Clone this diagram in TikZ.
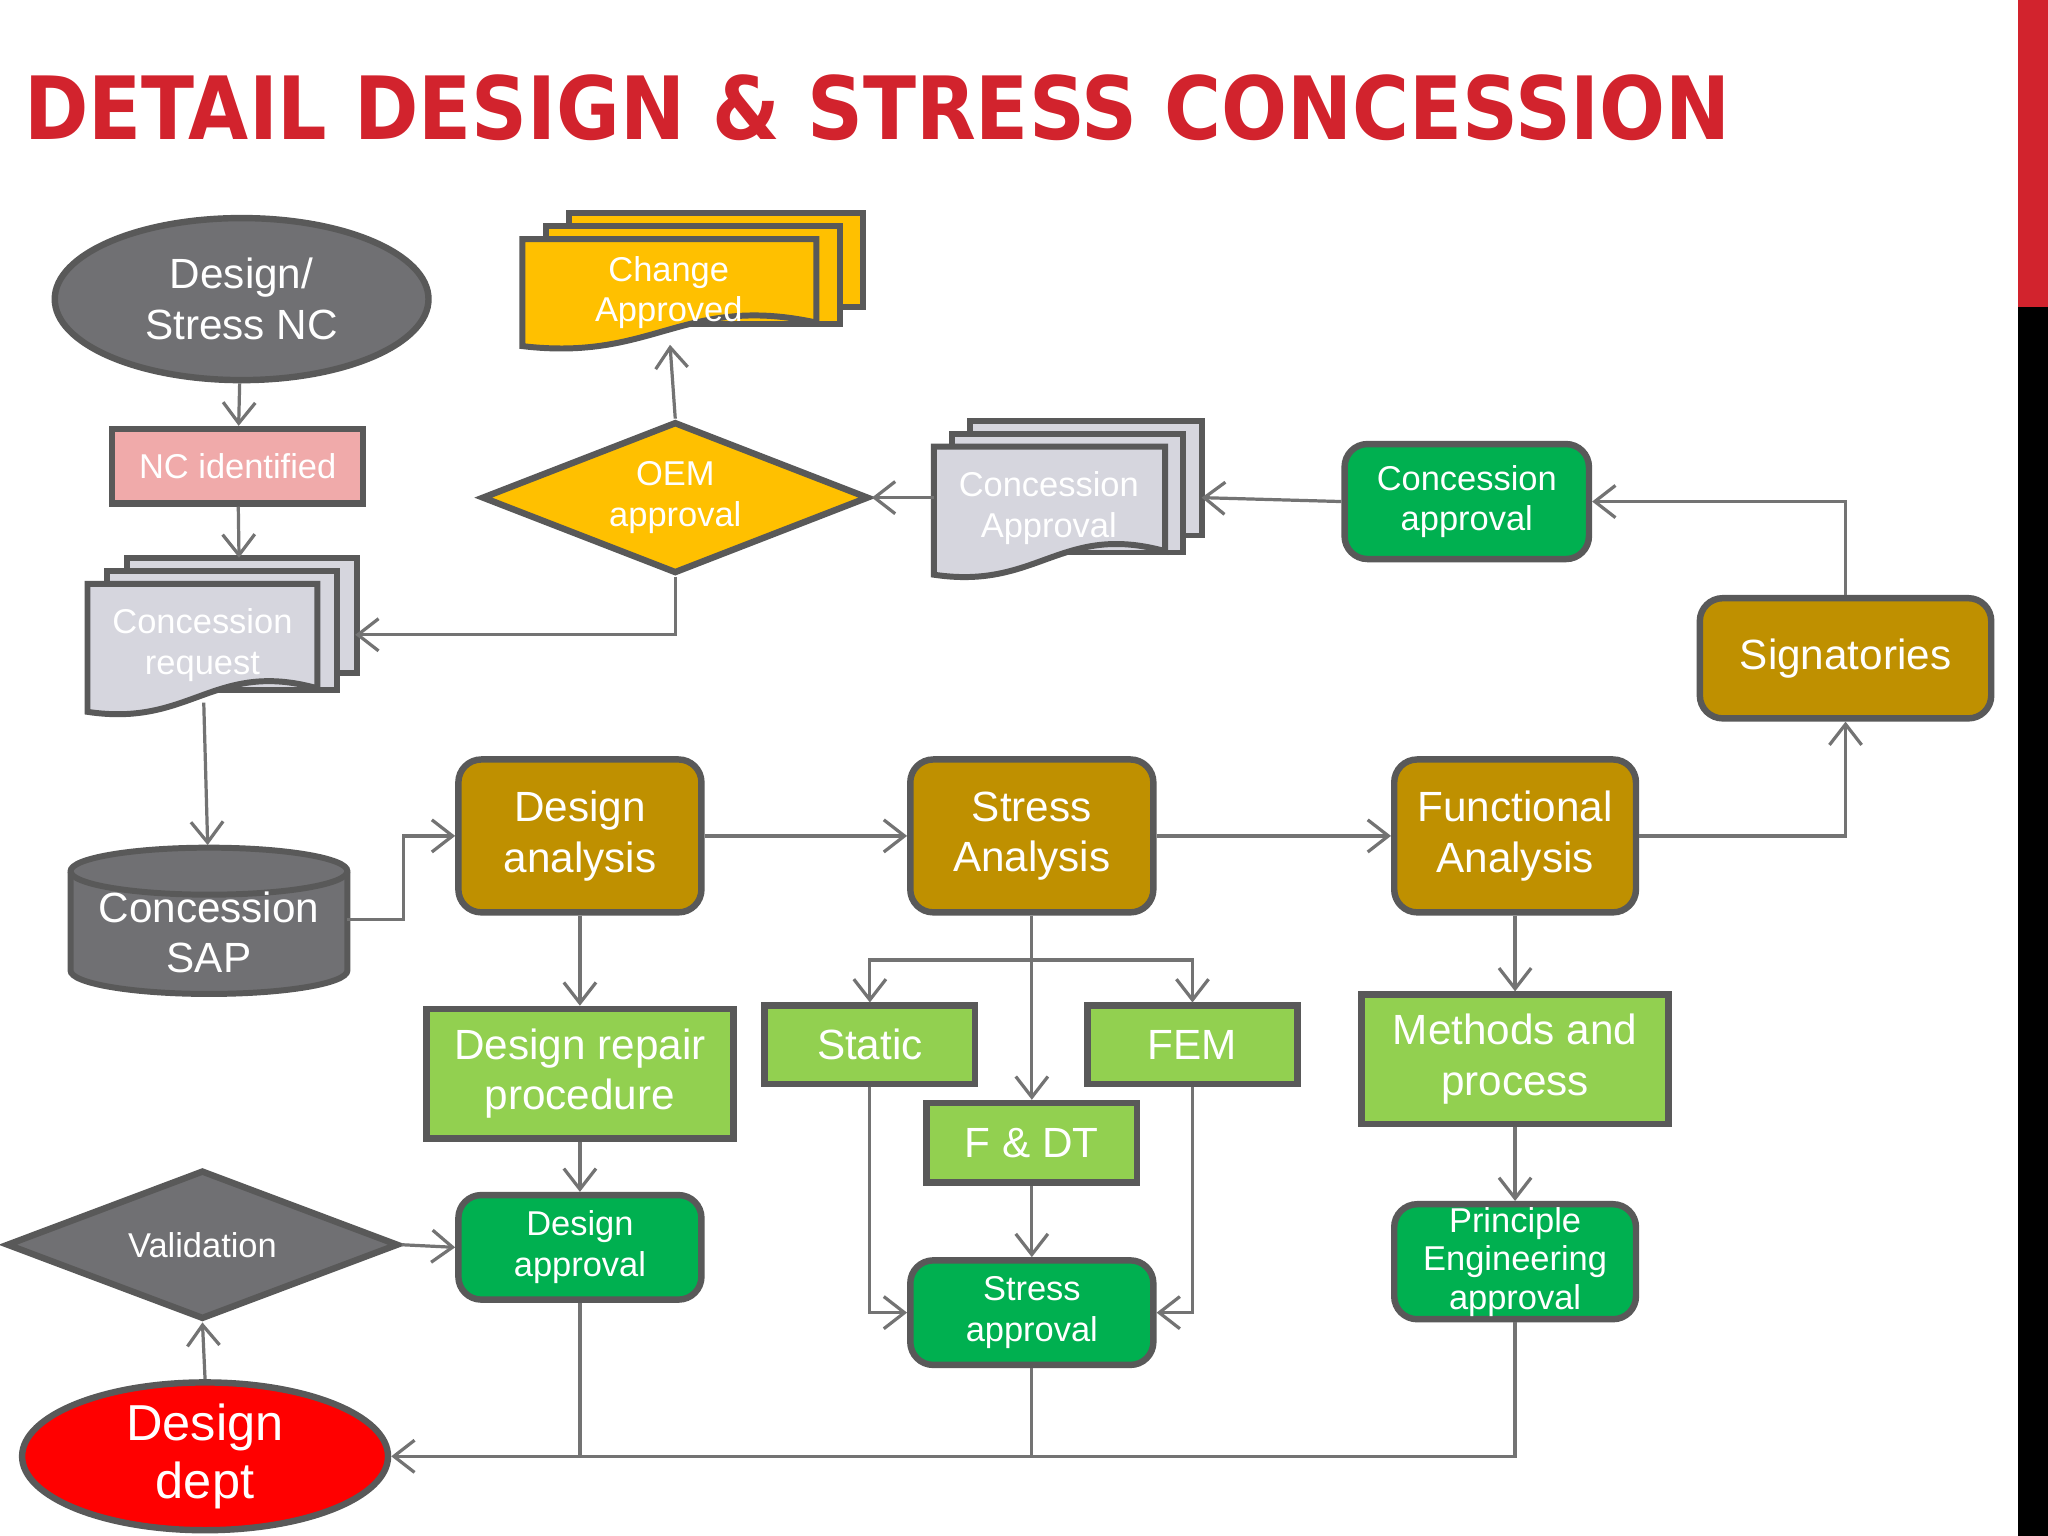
\documentclass[tikz,border=0pt]{standalone}
\usepackage{fontspec}
\setmainfont{Liberation Sans}
\newfontfamily\titlefont{DejaVu Sans}
\usetikzlibrary{arrows.meta,shapes.geometric,calc}
\definecolor{dgray}{RGB}{112,112,115}
\definecolor{olive}{RGB}{191,144,0}
\definecolor{grn}{RGB}{0,176,80}
\definecolor{lgrn}{RGB}{146,208,80}
\definecolor{yel}{RGB}{255,192,0}
\definecolor{docg}{RGB}{214,214,222}
\definecolor{pink}{RGB}{240,170,170}
\definecolor{bord}{RGB}{89,89,89}
\definecolor{ln}{RGB}{115,115,115}
\definecolor{ttl}{RGB}{210,35,45}
\newcommand\mydoc[6]{% x0 y0 x1 y1 fill dx
  \filldraw[docst,fill=#5] ({#1+2*#6},{#2-20}) rectangle ({#3+2*#6},{#4-30});
  \filldraw[docst,fill=#5] ({#1+#6},{#2-10}) rectangle ({#3+#6},{#4-17});
  \filldraw[docst,fill=#5] (#1,#2) -- (#3,#2) -- (#3,{#4-18}) .. controls ({#3-0.45*(#3-#1)},{#4-40}) and ({#1+0.45*(#3-#1)},{#4+12}) .. (#1,#4) -- cycle;
}
\tikzset{x=0.01cm,y=-0.01cm,
  docst/.style={draw=bord,line width=1.3pt},
  box/.style={draw=bord,line width=1.4pt,text=white,align=center,inner sep=0pt},
  rbox/.style={box,rounded corners=5pt},
  arr/.style={draw=ln,line width=0.7pt,-{Straight Barb[length=4.5pt,width=7pt]}},
  ln/.style={draw=ln,line width=0.7pt},
  f10/.style={font=\fontsize{9.2}{11}\selectfont},
  f8/.style={font=\fontsize{7.5}{8.9}\selectfont},
}
\begin{document}
\begin{tikzpicture}
\useasboundingbox (0,0) rectangle (1568,1176);
\fill[white] (0,0) rectangle (1568,1176);
\fill[ttl] (1545,0) rectangle (1568,235);
\fill[black] (1545,235) rectangle (1568,1176);
\node[anchor=base west,inner sep=0pt,text=ttl,font=\titlefont\bfseries\fontsize{19}{20}\selectfont] (title) at (18,107) {\scalebox{0.89}[1]{DETAIL DESIGN \& STRESS CONCESSION}};

% top-left
\node[ellipse,box,fill=dgray,minimum width=2.86cm,minimum height=1.24cm,f10] (nc) at (185,229) {Design/\\Stress NC};
\node[box,fill=pink,minimum width=1.92cm,minimum height=0.57cm,f8] (nci) at (182,357) {NC identified};
\mydoc{67}{447}{243}{545}{docg}{15}
\node[f8,text=white,align=center] (cr) at (155,494) {Concession\\request};
\coordinate (crtop) at (183,427);
\coordinate (crright) at (272,486);
\coordinate (crbot) at (156,538);

% cylinder
\filldraw[docst,fill=dgray] (54,667) -- (54,743) arc[start angle=180,end angle=0,x radius=106,y radius=18] -- (266,667) arc[start angle=0,end angle=-180,x radius=106,y radius=18] -- cycle;
\draw[docst] (54,667) arc[start angle=180,end angle=0,x radius=106,y radius=18];
\node[f10,text=white,align=center,minimum width=2.12cm,minimum height=0.9cm] (sap) at (160,714) {Concession\\SAP};
\coordinate (saptop) at (159,647);
\coordinate (sapr) at (266,704);

% change approved
\mydoc{400}{183}{625}{265}{yel}{18}
\node[f8,text=white,align=center] (ca) at (512,224) {Change\\Approved};
\coordinate (cabot) at (513,264);
\node[diamond,box,fill=yel,shape aspect=2.55,minimum width=2.96cm,minimum height=1.16cm,f8] (oem) at (517,381) {OEM\\approval};

% concession approval doc
\mydoc{715}{342}{892}{440}{docg}{14}
\node[f8,text=white,align=center] (cad) at (803,389) {Concession\\Approval};
\coordinate (cadl) at (715,381);
\coordinate (cadr) at (920,381);

\node[rbox,fill=grn,minimum width=1.87cm,minimum height=0.88cm,f8] (capp) at (1123,384) {Concession\\approval};
\node[rbox,fill=olive,minimum width=2.23cm,minimum height=0.92cm,f10] (sig) at (1413,504) {Signatories};

% analysis row
\node[rbox,fill=olive,minimum width=1.86cm,minimum height=1.17cm,f10] (da) at (444,640) {Design\\analysis};
\node[rbox,fill=olive,minimum width=1.86cm,minimum height=1.17cm,f10] (sa) at (790,640) {Stress\\Analysis};
\node[rbox,fill=olive,minimum width=1.85cm,minimum height=1.17cm,f10] (fa) at (1160,640) {Functional\\Analysis};

\node[box,fill=lgrn,minimum width=2.35cm,minimum height=0.99cm,f10] (drp) at (444,822) {Design repair\\procedure};
\node[box,fill=lgrn,minimum width=1.61cm,minimum height=0.6cm,f10] (st) at (666,800) {Static};
\node[box,fill=lgrn,minimum width=1.61cm,minimum height=0.6cm,f10] (fem) at (913,800) {FEM};
\node[box,fill=lgrn,minimum width=1.61cm,minimum height=0.61cm,f10] (fdt) at (790,875) {F \& DT};
\node[box,fill=lgrn,minimum width=2.35cm,minimum height=0.99cm,f10] (mp) at (1160,811) {Methods and\\process};

\node[rbox,fill=grn,minimum width=1.86cm,minimum height=0.8cm,f8] (dap) at (444,955) {Design\\approval};
\node[rbox,fill=grn,minimum width=1.86cm,minimum height=0.8cm,f8] (sap2) at (790,1005) {Stress\\approval};
\node[rbox,fill=grn,minimum width=1.85cm,minimum height=0.88cm,font=\fontsize{7.5}{8.4}\selectfont] (pea) at (1160,966) {Principle\\Engineering\\approval};

\node[diamond,box,fill=dgray,shape aspect=2.63,minimum width=3.0cm,minimum height=1.14cm,f8] (val) at (155,953) {Validation};
\node[ellipse,box,fill=red,minimum width=2.8cm,minimum height=1.0cm,font=\fontsize{11}{12.5}\selectfont] (dd) at (157,1115) {Design\\dept};

% connectors
\draw[arr] (nc) -- (nci);
\draw[arr] (nci) -- (crtop);
\draw[arr] (oem.south) |- (crright);
\draw[arr] (oem.north) -- (cabot);
\draw[arr] (cadl) -- (oem.east);
\draw[arr] (capp.west) -- (cadr);
\draw[arr] (sig.north) |- (capp.east);
\draw[arr] (crbot) -- (saptop);
\draw[arr] (sapr) -- (309,704) |- (da.west);
\draw[arr] (da) -- (sa);
\draw[arr] (sa) -- (fa);
\draw[arr] (fa.east) -| (sig.south);
\draw[arr] (da) -- (drp);
\draw[arr] (drp) -- (dap);
\draw[arr] (sa) -- (fdt);
\coordinate (br) at (790,735);
\draw[arr] (br) -| (st.north);
\draw[arr] (br) -| (fem.north);
\draw[arr] (fdt) -- (sap2);
\draw[arr] (st.south) |- (sap2.west);
\draw[arr] (fem.south) |- (sap2.east);
\draw[arr] (fa) -- (mp);
\draw[arr] (mp) -- (pea);
\draw[arr] (val.east) -- (dap.west);
\draw[arr] (dd.north) -- (val.south);
\draw[ln] (dap.south) -- (444,1115);
\draw[ln] (sap2.south) -- (790,1115);
\draw[arr] (pea.south) |- (dd.east);
\end{tikzpicture}
\end{document}
